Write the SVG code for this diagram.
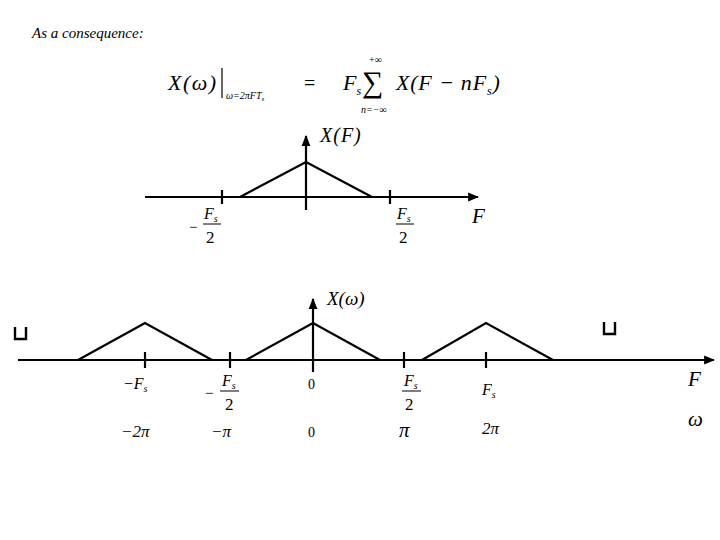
<svg xmlns="http://www.w3.org/2000/svg" width="720" height="540" viewBox="0 0 720 540">
<defs>
<style>
.ln{stroke:#000;stroke-width:2.2;fill:none}
.t{font-family:"Liberation Serif",serif;font-style:italic;fill:#000}
.n{font-family:"Liberation Serif",serif;fill:#000}
</style>
<marker id="ar" viewBox="0 0 10 10" refX="9" refY="5" markerWidth="5" markerHeight="5" orient="auto"><path d="M0,1 L10,5 L0,9 z" fill="#000"/></marker>
</defs>
<rect width="720" height="540" fill="#fff"/>
<text class="t" x="32" y="38" font-size="15">As a consequence:</text>
<g id="formula">
<text class="t" x="168" y="90" font-size="22" letter-spacing="1.5">X(ω)</text>
<line x1="222" y1="68" x2="222" y2="98" stroke="#000" stroke-width="1.2"/>
<text class="t" x="226" y="99" font-size="10">ω=2πFT<tspan font-size="7" dy="2">s</tspan></text>
<text class="n" x="304" y="90" font-size="20">=</text>
<text class="t" x="343" y="90" font-size="22">F<tspan font-size="12" dy="5">s</tspan></text>
<text class="n" x="362" y="92" font-size="30">∑</text>
<text class="n" x="369" y="63" font-size="10">+∞</text>
<text class="t" x="361" y="113" font-size="10">n=−∞</text>
<text class="t" x="396" y="90" font-size="22" letter-spacing="0.8">X(F − nF<tspan font-size="12" dy="5">s</tspan><tspan dy="-5">)</tspan></text>
</g>
<g id="top-plot">
<line class="ln" x1="145" y1="197" x2="478" y2="197" marker-end="url(#ar)"/>
<line class="ln" x1="306" y1="210" x2="306" y2="136" marker-end="url(#ar)"/>
<polyline class="ln" points="240,197 306,162 372,197"/>
<line class="ln" x1="222" y1="190" x2="222" y2="204"/>
<line class="ln" x1="390" y1="190" x2="390" y2="204"/>
<text class="t" x="320" y="142" font-size="20" letter-spacing="1">X(F)</text>
<text class="t" x="472" y="223" font-size="21">F</text>
<text class="n" x="189" y="232" font-size="15">−</text>
<text class="t" x="204" y="219" font-size="16">F<tspan font-size="10" dy="3">s</tspan></text>
<line x1="203" y1="224" x2="221" y2="224" stroke="#000" stroke-width="1"/>
<text class="n" x="206" y="243" font-size="17">2</text>
<text class="t" x="397" y="219" font-size="16">F<tspan font-size="10" dy="3">s</tspan></text>
<line x1="396" y1="224" x2="414" y2="224" stroke="#000" stroke-width="1"/>
<text class="n" x="399" y="243" font-size="17">2</text>
</g>
<g id="bottom-plot">
<line class="ln" x1="18" y1="360" x2="714" y2="360" marker-end="url(#ar)"/>
<line class="ln" x1="313" y1="372" x2="313" y2="299" marker-end="url(#ar)"/>
<polyline class="ln" points="78,360 145,323 212,360"/>
<polyline class="ln" points="246,360 313,323 380,360"/>
<polyline class="ln" points="422,360 486,323 553,360"/>
<line class="ln" x1="145" y1="352" x2="145" y2="368"/>
<line class="ln" x1="230" y1="352" x2="230" y2="368"/>
<line class="ln" x1="404" y1="352" x2="404" y2="368"/>
<line class="ln" x1="486" y1="352" x2="486" y2="368"/>
<path d="M15,327 V339 H26 V327" stroke="#000" stroke-width="2.4" fill="none"/>
<path d="M604,322 V334 H615 V322" stroke="#000" stroke-width="2.4" fill="none"/>
<text class="t" x="327" y="305" font-size="19">X(ω)</text>
<text class="t" x="688" y="386" font-size="21">F</text>
<text class="t" x="688" y="426" font-size="21">ω</text>
<text class="t" x="123" y="389" font-size="16">−F<tspan font-size="10" dy="3">s</tspan></text>
<text class="n" x="205" y="398" font-size="15">−</text>
<text class="t" x="222" y="386" font-size="16">F<tspan font-size="10" dy="3">s</tspan></text>
<line x1="220" y1="391" x2="239" y2="391" stroke="#000" stroke-width="1"/>
<text class="n" x="225" y="410" font-size="17">2</text>
<text class="n" x="308" y="389" font-size="14">0</text>
<text class="t" x="404" y="386" font-size="16">F<tspan font-size="10" dy="3">s</tspan></text>
<line x1="402" y1="391" x2="421" y2="391" stroke="#000" stroke-width="1"/>
<text class="n" x="405" y="410" font-size="17">2</text>
<text class="t" x="482" y="395" font-size="16">F<tspan font-size="10" dy="3">s</tspan></text>
<text class="t" x="121" y="437" font-size="17">−2π</text>
<text class="t" x="211" y="437" font-size="17">−π</text>
<text class="n" x="308" y="437" font-size="14">0</text>
<text class="t" x="399" y="437" font-size="21">π</text>
<text class="t" x="482" y="434" font-size="17">2π</text>
</g>
</svg>
